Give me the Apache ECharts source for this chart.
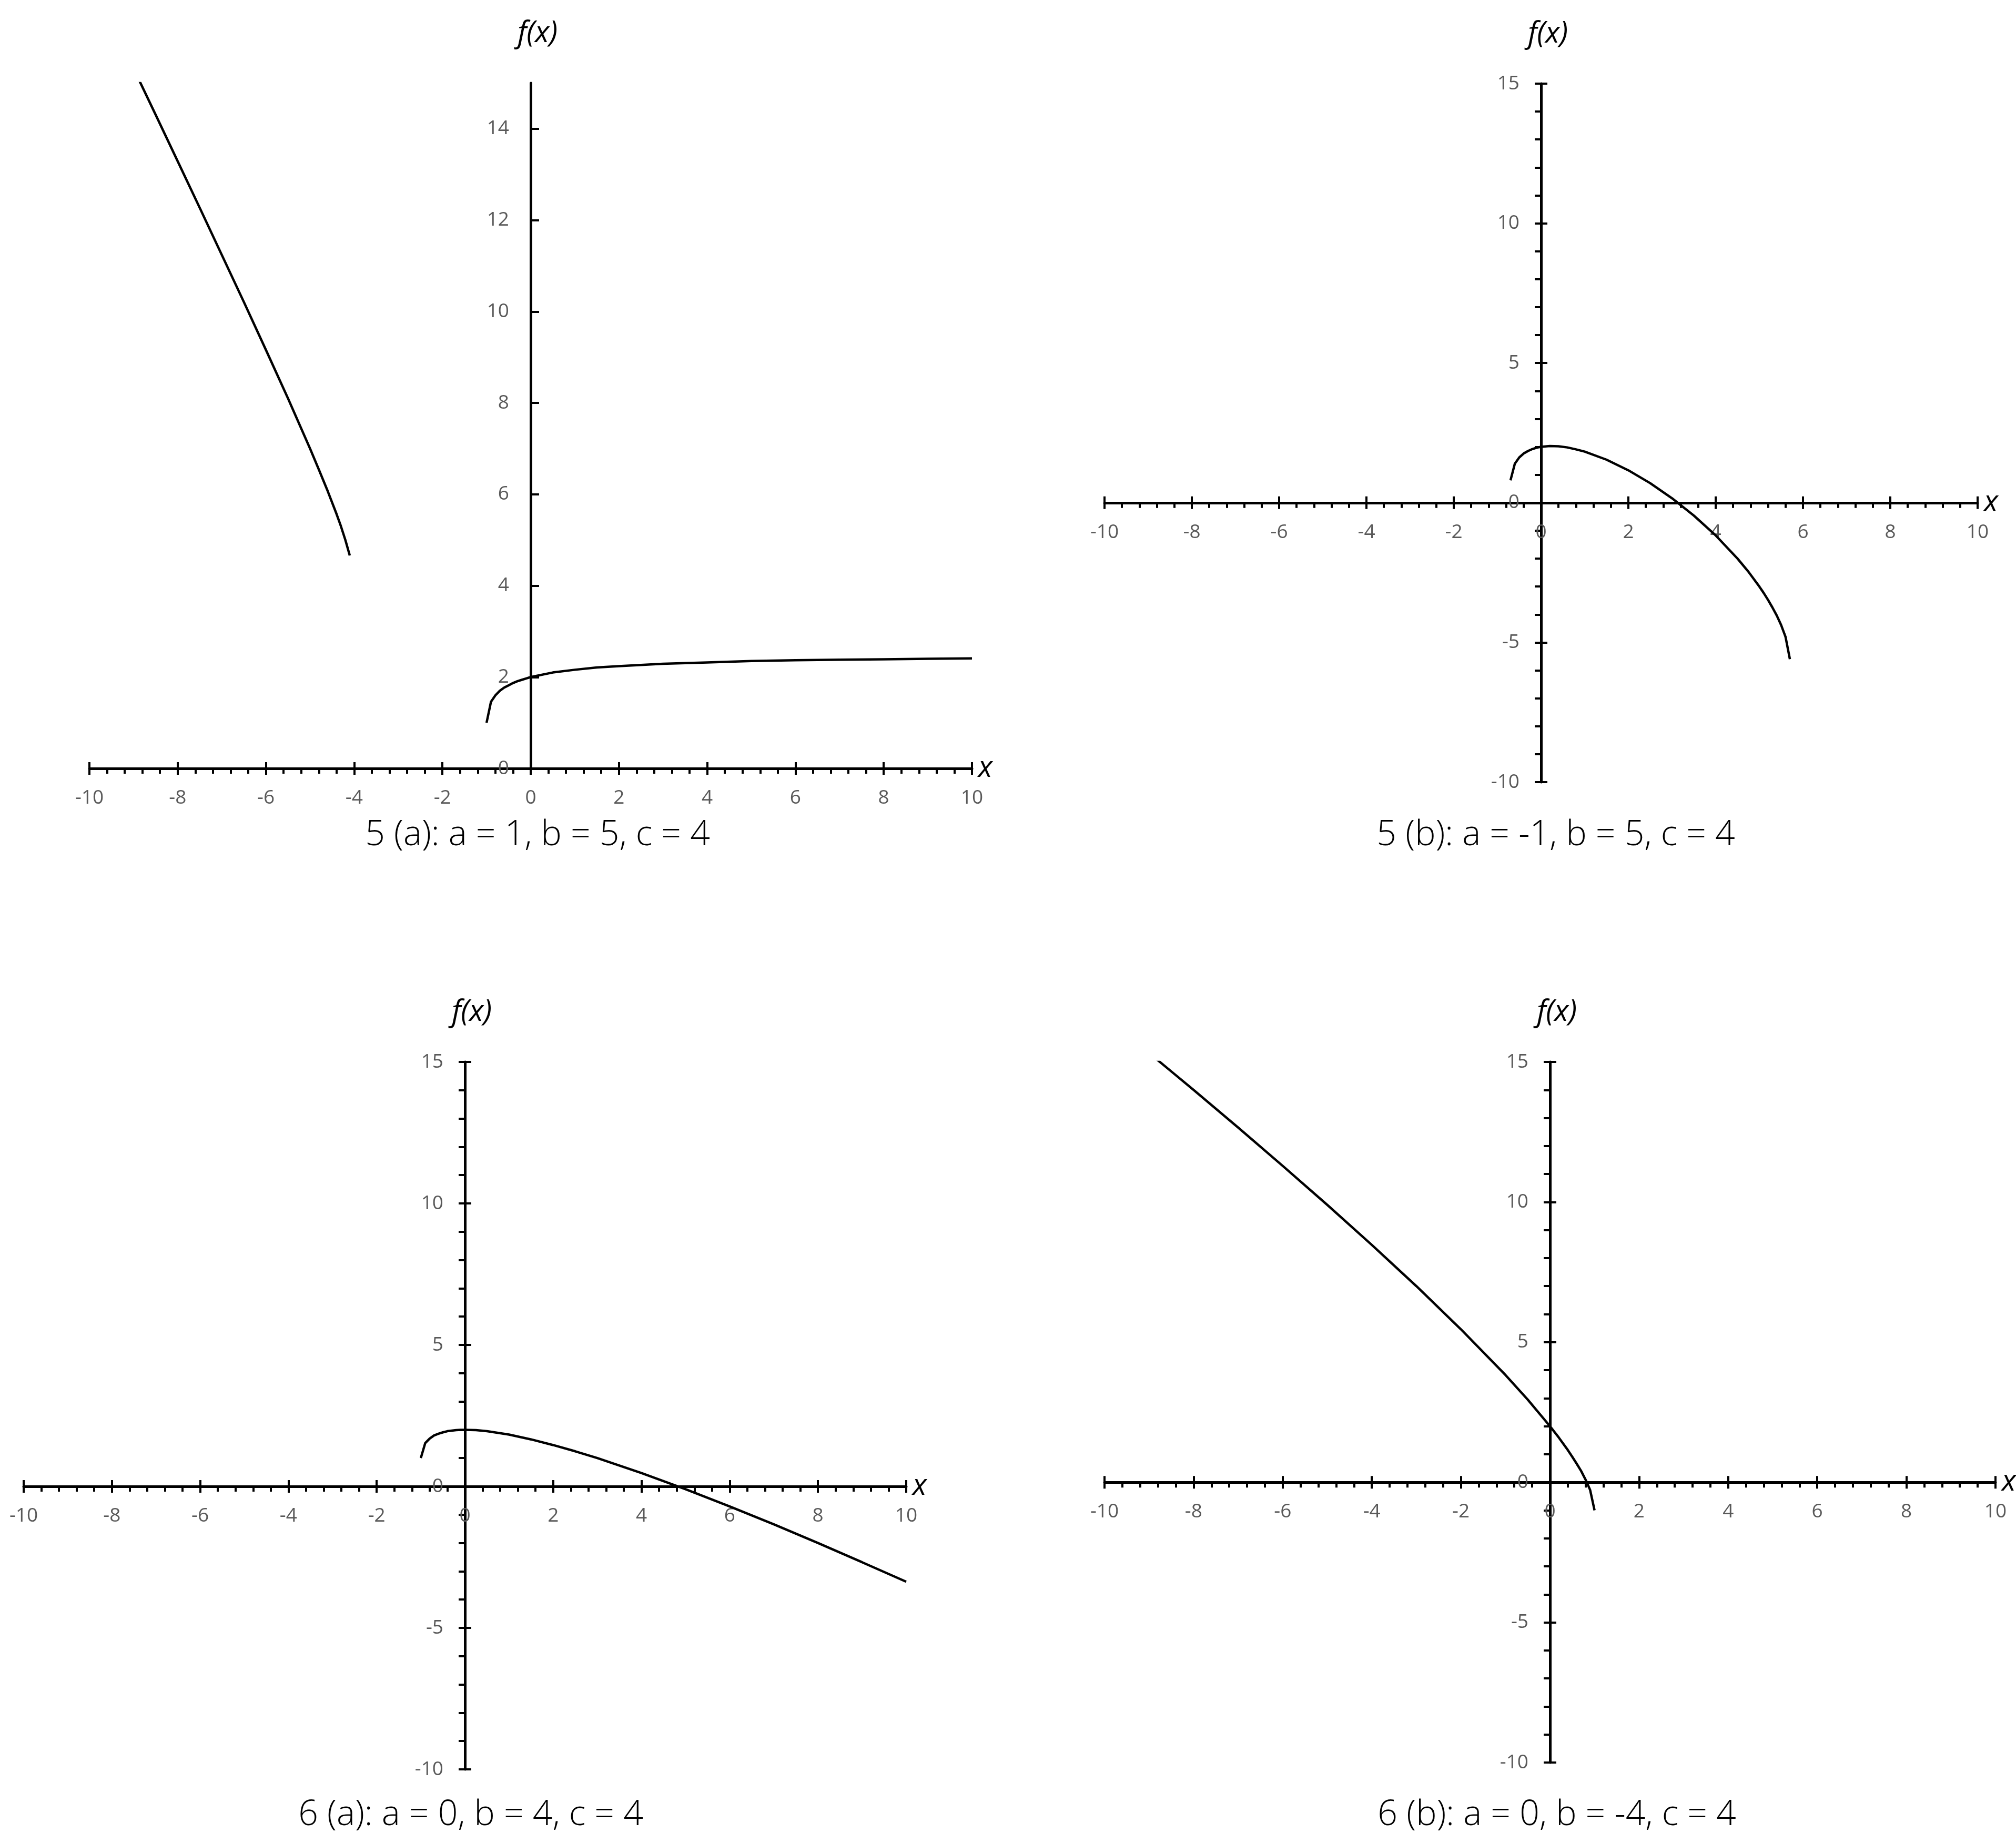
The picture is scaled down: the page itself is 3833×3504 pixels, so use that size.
<!DOCTYPE html>
<html><head><meta charset="utf-8">
<script src="https://cdn.jsdelivr.net/npm/echarts@6/dist/echarts.min.js"></script>
<style>html,body{margin:0;padding:0;background:#fff}#c{width:3833px;height:3504px}</style>
</head><body><div id="c"></div>
<script>
// ---------------- data ----------------
const captions = ['5 (a): a = 1, b = 5, c = 4', '5 (b): a = -1, b = 5, c = 4', '6 (a): a = 0, b = 4, c = 4', '6 (b): a = 0, b = -4, c = 4'];
const xRange = [-10, 10];
const xTickStep = 2;
const yRange5a = [0, 15];
const yTicks5a = [0, 2, 4, 6, 8, 10, 12, 14];
const yRangeOther = [-10, 15];
const yTickStepOther = 5;

const curve5aLeft = [[-9,15.32],[-8.5,14.31],[-8,13.29],[-7.5,12.27],[-7,11.24],[-6.5,10.21],[-6,9.16],[-5.5,8.1],[-5,7],[-4.8,6.54],[-4.6,6.07],[-4.4,5.57],[-4.3,5.3],[-4.2,5],[-4.1,4.66]];
const curve5aRight = [[-1,1],[-0.9,1.46],[-0.8,1.6],[-0.7,1.7],[-0.6,1.77],[-0.5,1.82],[-0.4,1.87],[-0.3,1.91],[-0.2,1.94],[-0.1,1.97],[0,2],[0.5,2.1],[1,2.16],[1.5,2.21],[2,2.24],[3,2.29],[4,2.32],[5,2.35],[6,2.37],[7,2.38],[8,2.39],[9,2.4],[10,2.41]];
const curve5b = [[-0.7,0.8],[-0.6,1.4],[-0.5,1.62],[-0.4,1.76],[-0.3,1.85],[-0.2,1.92],[-0.1,1.97],[0,2],[0.2,2.03],[0.4,2.02],[0.6,1.98],[0.8,1.91],[1,1.83],[1.5,1.54],[2,1.16],[2.5,0.7],[3,0.16],[3.5,-0.46],[4,-1.17],[4.5,-2],[4.75,-2.47],[5,-3],[5.1,-3.23],[5.2,-3.48],[5.3,-3.75],[5.4,-4.04],[5.5,-4.38],[5.6,-4.8],[5.7,-5.6]];
const curve6a = [[-1,1],[-0.9,1.53],[-0.8,1.69],[-0.7,1.8],[-0.6,1.86],[-0.5,1.91],[-0.4,1.95],[-0.3,1.97],[-0.2,1.99],[-0.1,2],[0,2],[0.25,1.99],[0.5,1.95],[1,1.83],[1.5,1.66],[2,1.46],[2.5,1.24],[3,1],[4,0.47],[5,-0.1],[6,-0.71],[7,-1.34],[8,-2],[9,-2.68],[10,-3.37]];
const curve6b = [[-9,15.32],[-8.5,14.66],[-8,14],[-7,12.66],[-6,11.29],[-5,9.9],[-4,8.47],[-3,7],[-2,5.46],[-1,3.83],[-0.5,2.95],[0,2],[0.2,1.59],[0.4,1.15],[0.5,0.91],[0.6,0.66],[0.7,0.4],[0.8,0.09],[0.9,-0.27],[1,-1]];

// ---------------- layout / style ----------------
const FONT = "'Open Sans', 'Liberation Sans', sans-serif";
const grids = [
  {left:170, top:158, width:1678, height:1303},
  {left:2100, top:159, width:1660, height:1328},
  {left:45, top:2019, width:1678, height:1345},
  {left:2100, top:2019, width:1694, height:1332}
];
const yRanges = [yRange5a, yRangeOther, yRangeOther, yRangeOther];
const captionPos = [[1022,1588],[2958,1588],[895,3451],[2960,3451]];
const black = '#000';
const axisW = 5, tickW = 4;

const xAxes = [], yAxes = [];
grids.forEach((g, k) => {
  const yr = yRanges[k];
  // pixel distance of the zero lines from the grid edges (axes cross at 0,0)
  const zeroFromBottom = g.height * (0 - yr[0]) / (yr[1] - yr[0]);
  const zeroFromTop = g.height - zeroFromBottom;
  const zeroFromLeft = g.width * (0 - xRange[0]) / (xRange[1] - xRange[0]);
  const zeroFromRight = g.width - zeroFromLeft;
  xAxes.push({
    gridIndex:k, type:'value', min:xRange[0], max:xRange[1], interval:xTickStep, position:'bottom',
    offset:-zeroFromBottom,
    axisLine:{show:true, onZero:false, lineStyle:{color:black, width:axisW}},
    axisTick:{show:true, length:12, lineStyle:{color:black, width:tickW}},
    minorTick:{show:true, splitNumber:5, length:10, lineStyle:{color:black, width:tickW}},
    axisLabel:{margin:38, color:'#595959', fontSize:37, fontFamily:FONT},
    splitLine:{show:false}, minorSplitLine:{show:false},
    name:'x', nameLocation:'end', nameGap:12,
    nameTextStyle:{fontStyle:'italic', fontSize:56, color:black, fontFamily:FONT, padding:[0,0,40,0]}
  });
  xAxes.push({
    gridIndex:k, type:'value', min:xRange[0], max:xRange[1], interval:xTickStep, position:'top',
    offset:-zeroFromTop,
    axisLine:{show:false, onZero:false},
    axisTick:{show:true, length:12, lineStyle:{color:black, width:tickW}},
    axisLabel:{show:false}, splitLine:{show:false}
  });
  const nameStyle = {fontStyle:'italic', fontSize:56, color:black, fontFamily:FONT, padding:[0,0,0,26]};
  if (k === 0) {
    yAxes.push({
      gridIndex:k, type:'value', min:yr[0], max:yr[1], interval:2, position:'left',
      offset:-zeroFromLeft,
      axisLine:{show:true, onZero:false, lineStyle:{color:black, width:axisW}},
      axisTick:{show:true, inside:true, length:16, customValues:yTicks5a, lineStyle:{color:black, width:tickW}},
      axisLabel:{margin:41, color:'#595959', fontSize:37, fontFamily:FONT, customValues:yTicks5a},
      splitLine:{show:false},
      name:'f(x)', nameLocation:'end', nameGap:66, nameTextStyle:nameStyle
    });
    yAxes.push({gridIndex:k, type:'value', min:yr[0], max:yr[1], show:false, splitLine:{show:false}});
  } else {
    yAxes.push({
      gridIndex:k, type:'value', min:yr[0], max:yr[1], interval:yTickStepOther, position:'left',
      offset:-zeroFromLeft,
      axisLine:{show:true, onZero:false, lineStyle:{color:black, width:axisW}},
      axisTick:{show:true, length:12, lineStyle:{color:black, width:tickW}},
      minorTick:{show:true, splitNumber:5, length:12, lineStyle:{color:black, width:tickW}},
      axisLabel:{margin:41, color:'#595959', fontSize:37, fontFamily:FONT},
      splitLine:{show:false}, minorSplitLine:{show:false},
      name:'f(x)', nameLocation:'end', nameGap:66, nameTextStyle:nameStyle
    });
    yAxes.push({
      gridIndex:k, type:'value', min:yr[0], max:yr[1], interval:yTickStepOther, position:'right',
      offset:-zeroFromRight,
      axisLine:{show:false, onZero:false},
      axisTick:{show:true, length:12, lineStyle:{color:black, width:tickW}},
      axisLabel:{show:false}, splitLine:{show:false}
    });
  }
});

function curve(k, data) {
  return {type:'line', xAxisIndex:2*k, yAxisIndex:2*k, data:data, showSymbol:false, symbol:'none',
    clip:true, lineStyle:{color:black, width:4.5}, z:5, animation:false};
}

const option = {
  animation:false,
  backgroundColor:'#fff',
  grid: grids.map(g => Object.assign({outerBoundsMode:'none', containLabel:false}, g)),
  xAxis: xAxes,
  yAxis: yAxes,
  title: captions.map((t, i) => ({
    text:t, left:captionPos[i][0], top:captionPos[i][1], padding:0,
    textAlign:'center', textVerticalAlign:'middle',
    textStyle:{fontSize:66, fontWeight:300, color:black, fontFamily:FONT}
  })),
  series: [
    curve(0, curve5aLeft), curve(0, curve5aRight),
    curve(1, curve5b), curve(2, curve6a), curve(3, curve6b)
  ]
};
const chart = echarts.init(document.getElementById('c'), null, {renderer:'canvas'});
chart.setOption(option);
</script></body></html>
